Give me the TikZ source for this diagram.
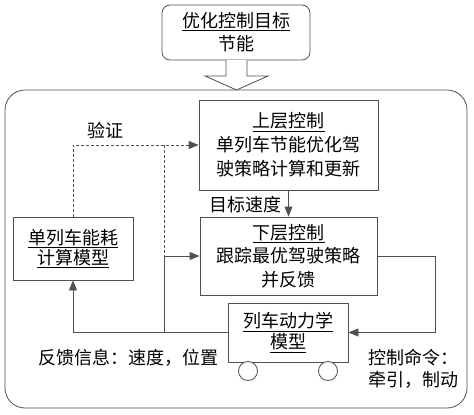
\documentclass[tikz,border=0pt]{standalone}
\usepackage{fontspec}
\setmainfont{Noto Sans CJK SC}
\usetikzlibrary{arrows.meta}
\definecolor{linegray}{HTML}{505050}
\begin{document}
\begin{tikzpicture}[x=1pt,y=-1pt,
 line/.style={draw=linegray, line width=0.8pt},
 box/.style={line, fill=white, inner sep=0pt, align=center, font=\fontsize{18}{24}\selectfont},
 arr/.style={line, -{Triangle[length=10pt,width=8pt]}},
 dashline/.style={dash pattern=on 3pt off 2pt},
 lbl/.style={inner sep=0pt, font=\fontsize{18}{22}\selectfont}]
\useasboundingbox (0,0) rectangle (474,415);
% outer frame
\draw[line, rounded corners=20pt] (5,90) rectangle (467,408);
% top goal box
\node[box, rounded corners=8pt, minimum width=148pt, minimum height=55pt, font=\fontsize{18}{23}\selectfont] (T) at (236,32.5) {\underline{优化控制目标}\\节能};
% block arrow
\draw[line, fill=white] (226,60) -- (226,76) -- (205,76) -- (236.5,90) -- (268,76) -- (247,76) -- (247,60);
% boxes
\node[box, minimum width=179pt, minimum height=90pt] (U) at (288.5,145) {\underline{上层控制}\\单列车节能优化驾\\驶策略计算和更新};
\node[box, minimum width=177pt, minimum height=78pt, font=\fontsize{18}{23.5}\selectfont] (D) at (288.5,256) {\underline{下层控制}\\跟踪最优驾驶策略\\并反馈};
\node[box, minimum width=120pt, minimum height=63pt, font=\fontsize{18}{18}\selectfont] (L) at (73,248.5) {\underline{单列车能耗}\\\underline{计算模型}};
\node[box, minimum width=120pt, minimum height=59pt, font=\fontsize{18}{21}\selectfont] (M) at (288,332.5) {\underline{列车动力学}\\\underline{模型}};
\node[line, fill=white, circle, inner sep=0pt, minimum size=19pt] (w1) at (248,371) {};
\node[line, fill=white, circle, inner sep=0pt, minimum size=19pt] (w2) at (328,371) {};
% junction coordinates
\coordinate (j1) at (164,145);
\coordinate (j2) at (164,256);
\coordinate (j3) at (164,332.5);
\coordinate (r) at (435,332.5);
% connectors
\draw[arr, dashline] (L.north) |- (U.west);
\draw[line, dashline] (j1) -- (j2);
\draw[arr] (j2) -- (D.west);
\draw[line] (j3) -- (j2);
\draw[arr] (M.west) -| (L.south);
\draw[arr] (D.east) -| (r) -- (M.east);
\draw[arr] (U.south) -- (D.north);
% labels
\node[lbl] (lv) at (105.5,131) {验证};
\node[lbl] (lt) at (245,205) {目标速度};
\node[lbl] (lf) at (128.5,358) {反馈信息：速度，位置};
\node[lbl, anchor=west] (lc1) at (368,358) {控制命令：};
\node[lbl, anchor=west] (lc2) at (368,380) {牵引，制动};
\end{tikzpicture}
\end{document}
